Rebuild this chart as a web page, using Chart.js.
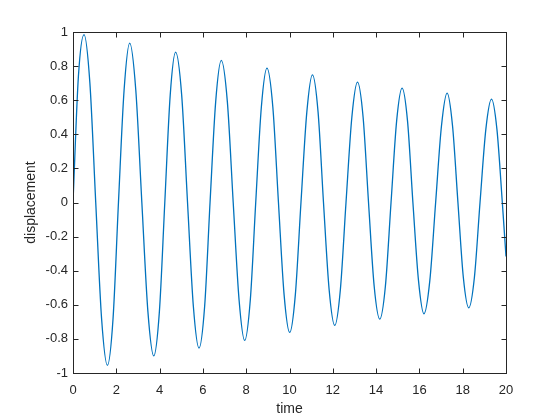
<!DOCTYPE html>
<html>
<head>
<meta charset="utf-8">
<script src="https://cdn.jsdelivr.net/npm/chart.js@4"></script>
<style>
  html, body { margin: 0; padding: 0; background: #fff; }
  #wrap { width: 560px; height: 420px; }
</style>
</head>
<body>
<div id="wrap"><canvas id="mychart" width="560" height="420"></canvas></div>
<script>
// values: extremes, zero crossings and points in between
const time = [
    0.00, 0.25, 0.51, 0.78, 1.05, 1.32, 1.59, 1.85, 2.10, 2.36,
    2.62, 2.90, 3.18, 3.46, 3.73, 3.99, 4.24, 4.49, 4.74, 5.02,
    5.29, 5.56, 5.82, 6.08, 6.33, 6.59, 6.85, 7.13, 7.40, 7.67,
    7.93, 8.19, 8.44, 8.70, 8.96, 9.23, 9.49, 9.75, 10.01, 10.27,
    10.53, 10.80, 11.06, 11.32, 11.57, 11.83, 12.09, 12.35, 12.61, 12.88,
    13.14, 13.40, 13.65, 13.91, 14.17, 14.43, 14.69, 14.95, 15.20, 15.45,
    15.70, 15.96, 16.21, 16.48, 16.75, 17.02, 17.28, 17.53, 17.78, 18.03,
    18.28, 18.54, 18.80, 19.07, 19.33, 19.58, 19.83, 20.00
];
const displacement = [
    0.00, 0.74, 0.985, 0.70, 0.00, -0.68, -0.955, -0.68, 0.00, 0.66,
    0.935, 0.66, 0.00, -0.64, -0.90, -0.64, 0.00, 0.63, 0.882, 0.63,
    0.00, -0.61, -0.854, -0.61, 0.00, 0.59, 0.833, 0.59, 0.00, -0.57,
    -0.809, -0.57, 0.00, 0.56, 0.788, 0.56, 0.00, -0.54, -0.762, -0.54,
    0.00, 0.53, 0.749, 0.53, 0.00, -0.51, -0.721, -0.51, 0.00, 0.50,
    0.706, 0.50, 0.00, -0.49, -0.684, -0.49, 0.00, 0.48, 0.671, 0.48,
    0.00, -0.46, -0.653, -0.46, 0.00, 0.45, 0.642, 0.45, 0.00, -0.44,
    -0.618, -0.44, 0.00, 0.43, 0.606, 0.43, 0.00, -0.317
];
const xTickValues = [0, 2, 4, 6, 8, 10, 12, 14, 16, 18, 20];
const yTickValues = [-1, -0.8, -0.6, -0.4, -0.2, 0, 0.2, 0.4, 0.6, 0.8, 1];

const axisColor = '#262626';
const fontFamily = '"Liberation Sans", Arial, sans-serif';

// MATLAB style box with inward ticks on all four sides
const axesBox = {
    id: 'axesBox',
    afterDraw: (chart) => {
        const {ctx, chartArea} = chart;
        const xs = chart.scales.x, ys = chart.scales.y;
        const l = Math.round(chartArea.left) + 0.5;
        const r = Math.round(chartArea.right) + 0.5;
        const t = Math.round(chartArea.top) + 0.5;
        const b = Math.round(chartArea.bottom) + 0.5;
        const len = 5;
        ctx.save();
        ctx.strokeStyle = axisColor;
        ctx.lineWidth = 1;
        ctx.strokeRect(l, t, r - l, b - t);
        ctx.beginPath();
        xTickValues.forEach(v => {
            const px = Math.round(xs.getPixelForValue(v)) + 0.5;
            ctx.moveTo(px, b); ctx.lineTo(px, b - len);
            ctx.moveTo(px, t); ctx.lineTo(px, t + len);
        });
        yTickValues.forEach(v => {
            const py = Math.round(ys.getPixelForValue(v)) + 0.5;
            ctx.moveTo(l, py); ctx.lineTo(l + len, py);
            ctx.moveTo(r, py); ctx.lineTo(r - len, py);
        });
        ctx.stroke();
        ctx.restore();
    }
};

const points = time.map((t, i) => ({x: t, y: displacement[i]}));

const options = {
    type: 'line',
    data: {
        datasets: [{
            data: points,
            borderColor: '#0072BD',
            borderWidth: 1.3,
            pointRadius: 0,
            fill: false,
            cubicInterpolationMode: 'monotone'
        }]
    },
    options: {
        responsive: false,
        animation: false,
        devicePixelRatio: 1,
        layout: { padding: { top: 32, right: 54, left: 0, bottom: 0 } },
        plugins: { legend: { display: false }, tooltip: { enabled: false } },
        scales: {
            x: {
                type: 'linear',
                min: 0,
                max: 20,
                afterBuildTicks: (scale) => { scale.ticks = xTickValues.map(v => ({value: v})); },
                afterFit: (scale) => { scale.height = 47; },
                grid: { display: false, drawTicks: false },
                border: { display: false },
                ticks: {
                    color: axisColor,
                    padding: 10,
                    maxRotation: 0,
                    font: { family: fontFamily, size: 13 },
                    callback: (v) => String(v)
                },
                title: {
                    display: true,
                    text: 'time',
                    color: axisColor,
                    padding: { top: 0, bottom: 2 },
                    font: { family: fontFamily, size: 14 }
                }
            },
            y: {
                type: 'linear',
                min: -1,
                max: 1,
                afterBuildTicks: (scale) => { scale.ticks = yTickValues.map(v => ({value: v})); },
                afterFit: (scale) => { scale.width = 73; },
                grid: { display: false, drawTicks: false },
                border: { display: false },
                ticks: {
                    color: axisColor,
                    padding: 5,
                    font: { family: fontFamily, size: 13 },
                    callback: (v) => String(Number(v.toFixed(1)))
                },
                title: {
                    display: true,
                    text: 'displacement',
                    color: axisColor,
                    padding: { top: 23, bottom: 0 },
                    font: { family: fontFamily, size: 14 }
                }
            }
        }
    },
    plugins: [axesBox]
};

const ctx = document.getElementById('mychart').getContext('2d');
const chart = new Chart(ctx, options);
</script>
</body>
</html>
